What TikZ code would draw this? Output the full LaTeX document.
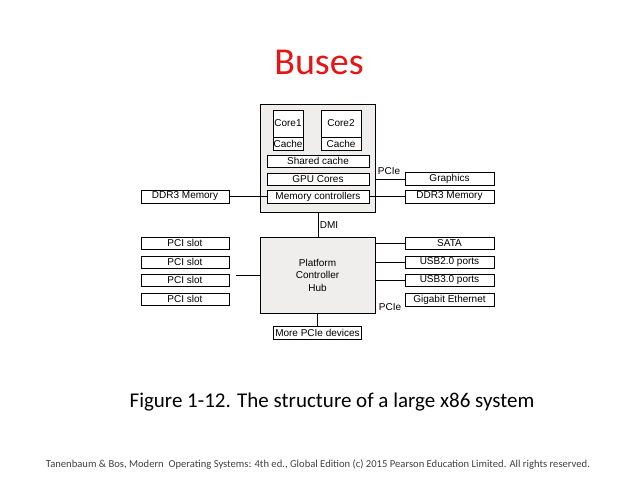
\documentclass[tikz,border=0pt]{standalone}
\usepackage{fontspec}
\setmainfont{Carlito}
\newfontfamily\diag{Liberation Sans}
\usetikzlibrary{positioning}
\definecolor{chipgray}{RGB}{240,238,236}
\definecolor{titlered}{RGB}{230,20,20}
\tikzset{
  box/.style={draw, line width=0.6pt, fill=white, inner sep=0pt, font=\diag\fontsize{10}{11}\selectfont},
  chip/.style={draw, line width=0.6pt, fill=chipgray},
  lbl/.style={font=\diag\fontsize{10}{11}\selectfont, inner sep=1pt},
  bus/.style={line width=0.6pt}
}
\begin{document}
\begin{tikzpicture}[x=1pt,y=-1pt]
  \useasboundingbox (0,0) rectangle (638,478);

  \node[font=\fontsize{38}{42}\selectfont, text=titlered] (title) at (319,62) {Buses};

  % CPU package
  \draw[chip] (260,104) rectangle (375,212);
  \node[box, minimum width=30pt, minimum height=27pt] (core1) at (288,123.5) {Core1};
  \node[box, minimum width=30pt, minimum height=13pt] (cache1) at (288,143.5) {Cache};
  \node[box, minimum width=40pt, minimum height=27pt] (core2) at (341,123.5) {Core2};
  \node[box, minimum width=40pt, minimum height=13pt] (cache2) at (341,143.5) {Cache};
  \node[box, minimum width=102pt, minimum height=12pt] (shared) at (318,161) {Shared cache};
  \node[box, minimum width=102pt, minimum height=12pt] (gpu) at (318,179) {GPU Cores};
  \node[box, minimum width=102pt, minimum height=13pt] (memctl) at (318,196.5) {Memory controllers};
  \coordinate (cpuR) at (375,179);
  \coordinate (cpuB) at (318,212);

  \node[box, minimum width=88pt, minimum height=13pt] (ddrL) at (185,196.5) {DDR3 Memory};
  \node[box, minimum width=89pt, minimum height=13pt] (graphics) at (449.5,178.5) {Graphics};
  \node[box, minimum width=89pt, minimum height=13pt] (ddrR) at (449.5,196.5) {DDR3 Memory};
  \draw[bus] (ddrL) -- (memctl);
  \draw[bus] (memctl) -- (ddrR);
  \draw[bus] (cpuR) -- (graphics.west |- cpuR);
  \node[lbl] (pcieG) at (389,171) {PCIe};

  % platform controller hub
  \node[chip, minimum width=115pt, minimum height=76pt, align=center, font=\diag\fontsize{10}{12.5}\selectfont] (pch) at (317.5,275) {Platform\\Controller\\Hub};
  \draw[bus] (cpuB) -- (pch.north -| cpuB);
  \node[lbl] (dmi) at (329,225) {DMI};

  \foreach \y/\n in {243/1,262/2,280/3,299/4}
    \node[box, minimum width=88pt, minimum height=12pt] (pci\n) at (185,\y) {PCI slot};
  \coordinate (pciEnd) at (236,275);
  \draw[bus] (pciEnd) -- (pch.west |- pciEnd);

  \node[box, minimum width=89pt, minimum height=12pt] (sata) at (449.5,243) {SATA};
  \node[box, minimum width=89pt, minimum height=12pt] (usb2) at (449.5,262) {USB2.0 ports};
  \node[box, minimum width=89pt, minimum height=12pt] (usb3) at (449.5,280) {USB3.0 ports};
  \node[box, minimum width=89pt, minimum height=13pt] (gbe) at (449.5,299.5) {Gigabit Ethernet};
  \foreach \n in {sata,usb2,usb3}
    \draw[bus] (pch.east |- \n) -- (\n);
  \node[lbl] (pcieH) at (390,307) {PCIe};

  \node[box, minimum width=88pt, minimum height=13pt] (more) at (317.5,332.5) {More PCIe devices};
  \draw[bus] (pch) -- (more);

  \node[font=\fontsize{21}{25}\selectfont] (caption) at (332,402) {Figure 1-12. The structure of a large x86 system};
  \node[font=\fontsize{10.6}{12}\selectfont, text=black!75] (footer) at (318,465) {Tanenbaum \& Bos, Modern\ \ Operating Systems: 4th ed., Global Edition (c) 2015 Pearson Education Limited. All rights reserved.};
\end{tikzpicture}
\end{document}
